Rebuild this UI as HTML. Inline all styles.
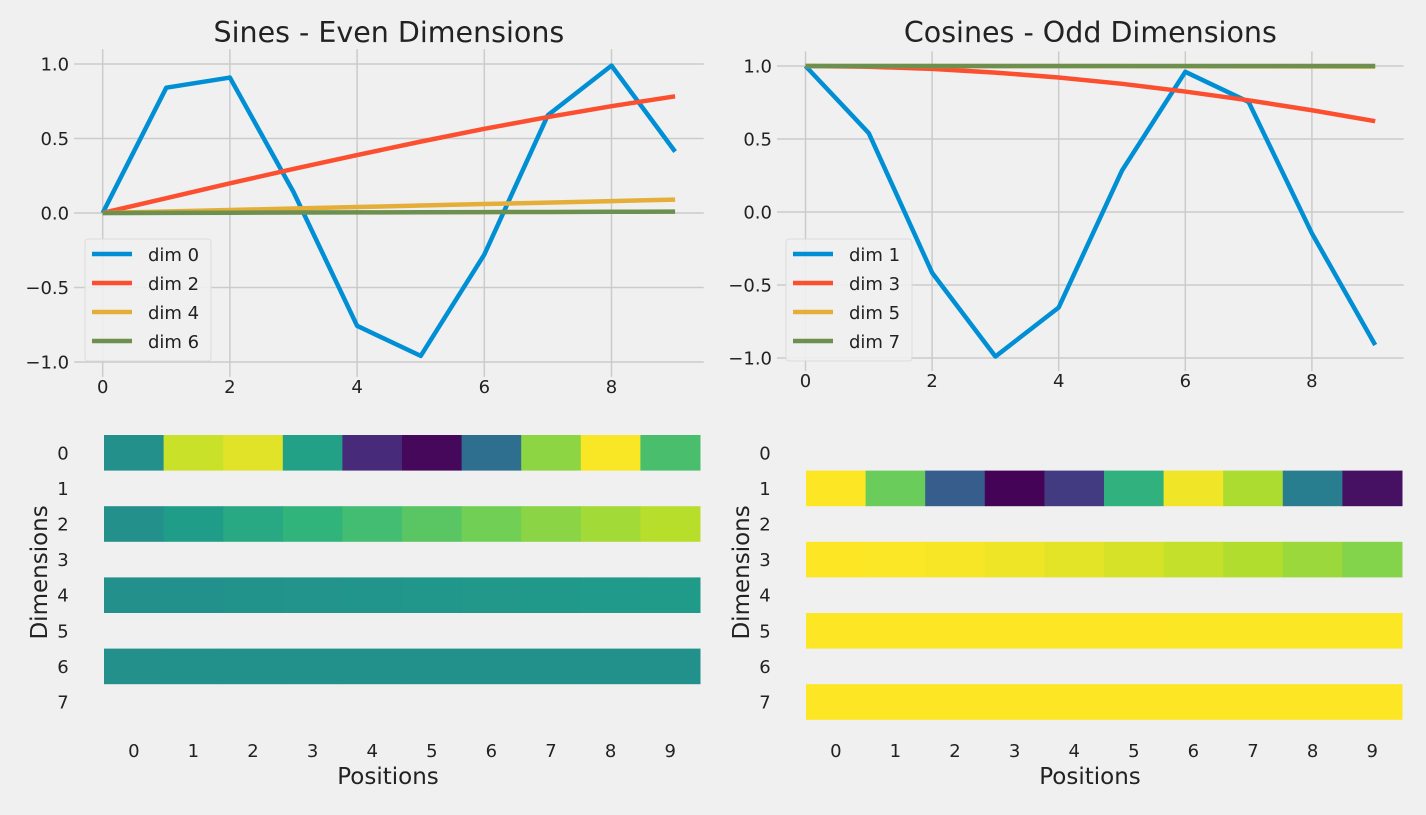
<!DOCTYPE html>
<html><head><meta charset="utf-8"><style>
html,body{margin:0;padding:0;background:#f0f0f0;}
svg{display:block;font-family:"DejaVu Sans","Liberation Sans",sans-serif;}
</style></head><body>
<svg id="fig" width="1426" height="815" viewBox="0 0 1426 815"></svg>
<script>
const positions=[0,1,2,3,4,5,6,7,8,9];
const dim0=[0,0.841,0.909,0.141,-0.757,-0.959,-0.279,0.657,0.989,0.412];
const dim2=[0,0.0998,0.199,0.296,0.389,0.479,0.565,0.644,0.717,0.783];
const dim4=[0,0.01,0.02,0.03,0.04,0.05,0.06,0.07,0.08,0.09];
const dim6=[0,0.001,0.002,0.003,0.004,0.005,0.006,0.007,0.008,0.009];
const dim1=[1,0.540,-0.416,-0.990,-0.654,0.284,0.960,0.754,-0.146,-0.911];
const dim3=[1,0.995,0.980,0.955,0.921,0.878,0.825,0.765,0.697,0.622];
const dim5=[1,0.99995,0.9998,0.99955,0.9992,0.99875,0.9982,0.99755,0.9968,0.99595];
const dim7=[1,1,1,1,1,1,1,1,1,1];
const xTicks=[0,2,4,6,8];
const yTicks=[1.0,0.5,0.0,-0.5,-1.0];
const yTickLabels=["1.0","0.5","0.0","\u22120.5","\u22121.0"];
const heatXTicks=[0,1,2,3,4,5,6,7,8,9];
const heatYTicks=[0,1,2,3,4,5,6,7];
const colors=["#008fd5","#fc4f30","#e5ae38","#6d904f"];
const viridis=[[68,1,84],[72,40,120],[62,74,137],[49,104,142],[38,130,142],[31,158,137],[53,183,121],[110,206,88],[181,222,43],[253,231,37]];
function vir(v){let t=(v+1)/2;t=Math.max(0,Math.min(1,t));const f=t*9,i=Math.min(8,Math.floor(f)),r=f-i;const a=viridis[i],b=viridis[i+1];return `rgb(${a.map((c,k)=>Math.round(c+(b[k]-c)*r)).join(',')})`;}
const NS="http://www.w3.org/2000/svg";const svg=document.getElementById('fig');
function el(tag,attrs,parent,text){const e=document.createElementNS(NS,tag);for(const k in attrs)e.setAttribute(k,attrs[k]);if(text!==undefined)e.textContent=text;(parent||svg).appendChild(e);return e;}
const FS=18;
function linePanel(cfg){
  const g=el('g',{});
  
  
  const X=v=>cfg.x0+v*cfg.xs, Y=v=>cfg.y0-v*cfg.ys;
  const L=X(-0.45),R=X(9.45),T=Y(cfg.ymax),B=Y(cfg.ymin);
  xTicks.forEach(t=>{const l=el('line',{x1:X(t),x2:X(t),y1:T,y2:B,stroke:'#cbcbcb','stroke-width':1.5},g);
    const tx=el('text',{x:X(t),y:B+16,'text-anchor':'middle','font-size':FS,fill:'#222'},g,String(t));});
  yTicks.forEach((t,i)=>{const l=el('line',{x1:L,x2:R,y1:Y(t),y2:Y(t),stroke:'#cbcbcb','stroke-width':1.5},g);
    const tx=el('text',{x:L-5,y:Y(t)+6.5,'text-anchor':'end','font-size':FS,fill:'#222'},g,yTickLabels[i]);});
  const tt=el('text',{x:(L+R)/2,y:42,'text-anchor':'middle','font-size':28.5,fill:'#222'},g,cfg.title);
  cfg.series.forEach((s,i)=>{const p=el('polyline',{points:positions.map((x,j)=>X(x)+','+Y(s[j])).join(' '),fill:'none',stroke:colors[i],'stroke-width':4.5,'stroke-linejoin':'round'},g);});
  const lg=el('g',{},g);
  el('rect',{x:cfg.lx,y:239,width:cfg.lw,height:122,rx:3,fill:'#f0f0f0',stroke:'#dadada','stroke-width':1,opacity:0.9},lg);
  cfg.labels.forEach((lab,i)=>{const yy=254+i*29;const e=el('g',{},lg);
    el('line',{x1:cfg.lx+7,x2:cfg.lx+47,y1:yy,y2:yy,stroke:colors[i],'stroke-width':4.5},e);
    el('text',{x:cfg.lx+63,y:yy+7,'font-size':FS,fill:'#222'},e,lab);});
}
linePanel({name:'sines-chart',title:'Sines - Even Dimensions',x0:102.7,xs:63.6,y0:213,ys:149,ymin:-1.1,ymax:1.1,series:[dim0,dim2,dim4,dim6],labels:['dim 0','dim 2','dim 4','dim 6'],lx:85,lw:126});
linePanel({name:'cosines-chart',title:'Cosines - Odd Dimensions',x0:805.5,xs:63.3,y0:212,ys:146,ymin:-1.09,ymax:1.1,series:[dim1,dim3,dim5,dim7],labels:['dim 1','dim 3','dim 5','dim 7'],lx:786,lw:126});

function heatPanel(cfg){
  const g=el('g',{});
  
  
  const cw=59.6,rh=35.6,top=435;
  cfg.rows.forEach((r,k)=>{const row=r.data;positions.forEach((p,j)=>{const c=el('rect',{x:cfg.x0+p*cw,y:top+r.dim*rh,width:cw+0.5,height:rh,fill:vir(row[j])},g);});});
  heatYTicks.forEach(t=>{const tx=el('text',{x:cfg.x0-41,y:top+(t+0.5)*rh+6.5,'text-anchor':'middle','font-size':FS,fill:'#222'},g,String(t));});
  heatXTicks.forEach(t=>{const tx=el('text',{x:cfg.x0+(t+0.5)*cw,y:757,'text-anchor':'middle','font-size':FS,fill:'#222'},g,String(t));});
  const xl=el('text',{x:cfg.x0+5*cw-14,y:784,'text-anchor':'middle','font-size':23,fill:'#222'},g,'Positions');
  const yl=el('text',{x:0,y:0,'text-anchor':'middle','font-size':23,fill:'#222',transform:`translate(${cfg.x0-57},${top+4*rh-5}) rotate(-90)`},g,'Dimensions');
}
heatPanel({name:'sines-heatmap',x0:104,rows:[{dim:0,data:dim0},{dim:2,data:dim2},{dim:4,data:dim4},{dim:6,data:dim6}]});
heatPanel({name:'cosines-heatmap',x0:806,rows:[{dim:1,data:dim1},{dim:3,data:dim3},{dim:5,data:dim5},{dim:7,data:dim7}]});
</script>
</body></html>
